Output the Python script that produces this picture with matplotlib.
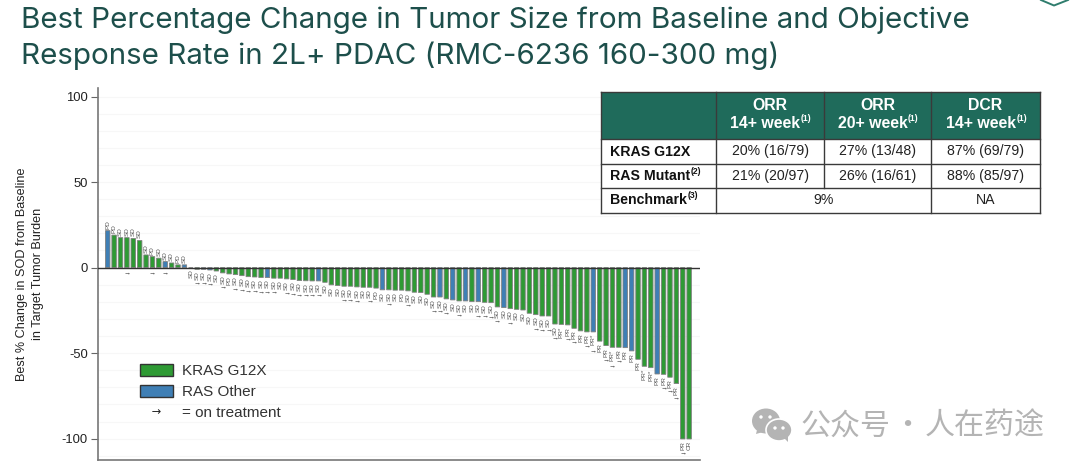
import numpy as np
import matplotlib
matplotlib.use("Agg")
import matplotlib.pyplot as plt
from matplotlib.patches import Patch, Rectangle, Ellipse, Polygon
from matplotlib.lines import Line2D

plt.rcParams['font.family'] = ['Liberation Sans', 'DejaVu Sans']
plt.rcParams['axes.unicode_minus'] = False

# --- data ---
best_change = [
    21.6, 19, 17.5, 17.5, 17, 15.8, 7.4, 6.4, 5.5, 3.5, 2.7, 1.6, 1.6,
    0, -1, -1, -1.4, -2, -3.1, -3.7, -4.1, -4.7, -5.3, -5.5, -5.8, -5.8,
    -6.2, -6.2, -6.6, -7, -7.6, -7.7, -7.8, -7.8, -8.6, -10.1, -10.5, -10.9,
    -10.9, -11.3, -11.5, -11.5, -12, -13, -13, -13.2, -13.2, -13.6, -14.4,
    -14.6, -15.6, -17.2, -17.2, -18.3, -18.9, -19.5, -19.5, -19.9, -19.9,
    -20.3, -20.5, -23, -23.4, -24, -24.4, -24.8, -26.7, -27.5, -28.3, -28.3,
    -33, -33.2, -33.5, -35.5, -37, -37.6, -37.6, -43, -45.6, -46.6, -46.6,
    -46.8, -48.7, -53.6, -57.7, -58.5, -62.2, -62.4, -64.1, -67.8, -100.2, -100.2,
]
blue_bars = [0, 9, 12, 15, 16, 25, 33, 43, 52, 54, 56, 58, 62, 76, 81, 82, 86]
responses = (
    ["PD", "PD", "SD", "SD", "SD", "SD", "SD", "PD", "SD", "SD", "SD", "PD", "SD"]
    + ["SD"] * 6 + ["PD"] + ["SD"] * 22 + ["PD"] + ["SD"] * 3 + ["PD"] + ["SD"] * 24
    + ["PR*", "PR", "PR", "PR", "PR", "PR*", "PR", "PR", "PR*", "PR", "PR", "PR", "PR",
       "PR*", "PR*", "PR", "PR", "PR", "PR", "PR", "CR", "PR"]
)
on_treatment = [3, 7, 9, 14, 15, 16, 18, 20, 21, 22, 23, 24, 25, 26, 28, 29, 30, 31,
                32, 33, 37, 38, 39, 41, 44, 47, 51, 52, 53, 55, 58, 59, 60, 61, 63,
                67, 68, 69, 70, 72, 73, 75, 76, 78, 79, 80, 87, 88, 89, 90]

y_ticks = [100, 50, 0, -50, -100]
legend_labels = ["KRAS G12X", "RAS Other", "= on treatment"]

col_top = ["ORR", "ORR", "DCR"]
col_sub = ["14+ week", "20+ week", "14+ week"]
row_labels = ["KRAS G12X", "RAS Mutant", "Benchmark"]
row_notes = ["", "(2)", "(3)"]
row_kras = ["20% (16/79)", "27% (13/48)", "87% (69/79)"]
row_ras = ["21% (20/97)", "26% (16/61)", "88% (85/97)"]
benchmark_orr = "9%"
benchmark_dcr = "NA"

GREEN = '#2e9a34'
BLUE = '#3f7fb5'
TEAL = '#1f6b5b'
TITLE_COLOR = '#1d4f4b'

fig = plt.figure(figsize=(10.8, 4.69), dpi=100)
W, H = 1080, 469

# --- waterfall ---
ax = fig.add_axes([97.5 / W, 1 - 460 / H, (700 - 97.5) / W, (460 - 88) / H])
x = np.arange(len(best_change))
colors = [BLUE if i in blue_bars else GREEN for i in x]
bars = ax.bar(x, best_change, width=0.7, color=colors, edgecolor='#808080', linewidth=0.6, zorder=3)
for b in bars:
    b.set_snap(False)
ax.set_xlim(-1.6, 92.7)
ax.set_ylim(-112.5, 105)
ax.axhline(0, color='#333333', lw=1.0, zorder=4)
ax.set_yticks(y_ticks)
ax.set_yticks(np.arange(-110, 101, 10), minor=True)
ax.tick_params(axis='y', which='minor', length=0)
ax.tick_params(axis='y', which='major', labelsize=9.4, length=5, color='#666666', labelcolor='#222222', pad=2)
ax.grid(axis='y', which='both', color='#f7f7f7', lw=0.8, zorder=0)
ax.axhline(20, color='#e2e2e2', lw=0.7, ls=(0, (4, 4)), zorder=1)
ax.axhline(-30, color='#e2e2e2', lw=0.7, ls=(0, (4, 4)), zorder=1)
ax.set_xticks([])
for side in ['top', 'right']:
    ax.spines[side].set_visible(False)
for side in ['left', 'bottom']:
    ax.spines[side].set_color('#777777')
    ax.spines[side].set_linewidth(1.2)
ax.set_ylabel("Best % Change in SOD from Baseline\nin Target Tumor Burden", fontsize=9.1,
              color='#222222', labelpad=13, linespacing=1.45)

# response labels and on-treatment arrows
for i, (v, lab) in enumerate(zip(best_change, responses)):
    if v > 0:
        ax.annotate(lab, (i, v), xytext=(0, 1.5), textcoords='offset points', rotation=90,
                    ha='center', va='bottom', fontsize=4.6, color='#555555')
    else:
        ax.annotate(lab, (i, v), xytext=(0, -1.5), textcoords='offset points', rotation=90,
                    ha='center', va='top', fontsize=4.6, color='#555555')
    if i in on_treatment:
        if v > 0:
            ax.annotate("→", (i, 0), xytext=(0, -4), textcoords='offset points',
                        ha='center', va='center', fontsize=5, color='#333333')
        else:
            off = -13.5 if lab == "PR*" else -10
            ax.annotate("→", (i, v), xytext=(0, off), textcoords='offset points',
                        ha='center', va='center', fontsize=5, color='#333333')

handles = [
    Patch(facecolor=GREEN, edgecolor='#333333', lw=1.0),
    Patch(facecolor=BLUE, edgecolor='#333333', lw=1.0),
    Line2D([], [], color='#222222', marker='$→$', markersize=6, markeredgewidth=0, ls='none'),
]
ax.legend(handles, legend_labels, loc='lower left', bbox_to_anchor=(0.07, 0.107), frameon=False,
          fontsize=11, handlelength=2.15, handleheight=0.9, handletextpad=0.6, labelspacing=0.42,
          labelcolor='#333333', borderpad=0, borderaxespad=0)

# --- overlay in pixel coords: title, table, watermark ---
ov = fig.add_axes([0, 0, 1, 1], zorder=5)
ov.set_xlim(0, W)
ov.set_ylim(H, 0)
ov.axis('off')
ov.patch.set_alpha(0)

ov.text(21, 20, "Best Percentage Change in Tumor Size from Baseline and Objective",
        fontsize=21.3, color=TITLE_COLOR, family='Inter', ha='left', va='center')
ov.text(21, 56, "Response Rate in 2L+ PDAC (RMC-6236 160-300 mg)",
        fontsize=21.3, color=TITLE_COLOR, family='Inter', ha='left', va='center')

# chevron in the top right corner
ov.plot([1041, 1054, 1068], [0, 5.5, 0], color='#2f7d6d', lw=1.4, clip_on=True)

col_x = [601, 716, 824, 931, 1040]
row_y = [92, 139, 164, 188, 213]
ov.add_patch(Rectangle((col_x[0], row_y[0]), col_x[-1] - col_x[0], row_y[1] - row_y[0], fc=TEAL, ec='none'))
ov.add_patch(Rectangle((col_x[0], row_y[1]), col_x[-1] - col_x[0], row_y[-1] - row_y[1], fc='white', ec='none'))
line_c = '#3a3a3a'
for yy in row_y[1:]:
    ov.plot([col_x[0], col_x[-1]], [yy, yy], color=line_c, lw=1.0)
ov.plot([col_x[0], col_x[-1]], [row_y[0], row_y[0]], color=line_c, lw=1.0)
for xx in (col_x[0], col_x[1], col_x[3], col_x[4]):
    ov.plot([xx, xx], [row_y[0], row_y[-1]], color=line_c, lw=1.0)
ov.plot([col_x[2], col_x[2]], [row_y[0], row_y[3]], color=line_c, lw=1.0)


def add_note(artist, note, color):
    # small superscript hung on the top right corner of a text
    ov.annotate(note, xy=(1, 1), xycoords=artist, xytext=(0.5, -1.5), textcoords='offset points',
                fontsize=6.2, fontweight='bold', color=color, ha='left', va='center')


for j in range(3):
    cx = (col_x[j + 1] + col_x[j + 2]) / 2
    ov.text(cx, 105.5, col_top[j], color='white', fontsize=11.4, fontweight='bold', ha='center', va='center')
    t = ov.text(cx - 5, 124, col_sub[j], color='white', fontsize=11.4, fontweight='bold',
                ha='center', va='center')
    add_note(t, "(1)", 'white')
for r, lab in enumerate(row_labels):
    t = ov.text(col_x[0] + 9, (row_y[r + 1] + row_y[r + 2]) / 2, lab, fontsize=10.2, fontweight='bold',
                color='#111111', ha='left', va='center')
    if row_notes[r]:
        add_note(t, row_notes[r], '#111111')
for r, vals in enumerate([row_kras, row_ras]):
    for j, val in enumerate(vals):
        cx = (col_x[j + 1] + col_x[j + 2]) / 2
        ov.text(cx, (row_y[r + 1] + row_y[r + 2]) / 2, val, fontsize=10.2, color='#222222',
                ha='center', va='center')
ov.text((col_x[1] + col_x[3]) / 2, (row_y[3] + row_y[4]) / 2, benchmark_orr, fontsize=10.2,
        color='#222222', ha='center', va='center')
ov.text((col_x[3] + col_x[4]) / 2, (row_y[3] + row_y[4]) / 2, benchmark_dcr, fontsize=10.2,
        color='#222222', ha='center', va='center')

# watermark
wm = '#b4b4b4'
ov.add_patch(Ellipse((766, 421), 28, 25, fc=wm, ec='none'))
ov.add_patch(Polygon([[757, 430], [756, 434], [763, 432]], fc=wm, ec='none'))
ov.add_patch(Ellipse((779, 430), 26, 22, fc=wm, ec='white', lw=1.2))
ov.add_patch(Polygon([[784, 438], [788, 442], [788, 436]], fc=wm, ec='none'))
for dx, dy in [(761, 417), (770, 417), (775, 428), (783, 428)]:
    ov.add_patch(Ellipse((dx, dy), 3.4, 3.4, fc='white', ec='none'))
cjk = ['Noto Sans CJK SC', 'DejaVu Sans']
ov.text(800, 426, "公众号", fontsize=21.6, color=wm, family=cjk, ha='left', va='center')
ov.text(907, 426, "·", fontsize=21.6, color=wm, family=cjk, ha='center', va='center')
ov.text(925, 426, "人在药途", fontsize=21.6, color=wm, family=cjk, ha='left', va='center')

fig.savefig("out.png", dpi=100, facecolor='white')
